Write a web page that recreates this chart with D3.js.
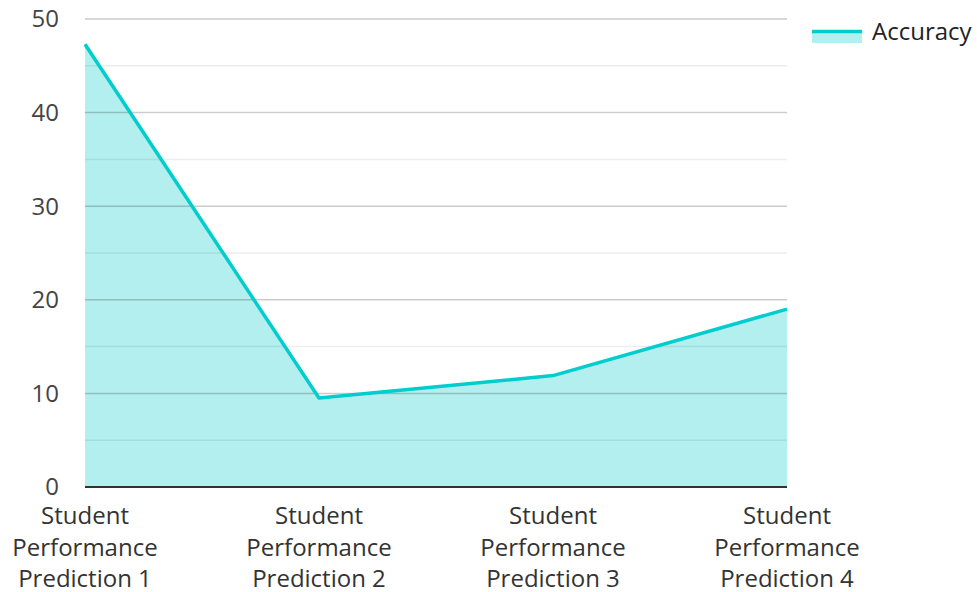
<!DOCTYPE html>
<html>
<head>
<meta charset="utf-8">
<script src="https://cdn.jsdelivr.net/npm/d3@7"></script>
<style>
  body { margin: 0; background: #fff; }
  text { font-family: "Open Sans", sans-serif; }
</style>
</head>
<body>
<div id="chart"></div>
<script>
// data
const categories = [
  "Student Performance Prediction 1",
  "Student Performance Prediction 2",
  "Student Performance Prediction 3",
  "Student Performance Prediction 4"
];
const accuracy = [47.3, 9.5, 11.9, 19.0];
const yTicks = [0, 10, 20, 30, 40, 50];
const yMinorTicks = [5, 15, 25, 35, 45];
const seriesName = "Accuracy";

const width = 977, height = 592;
const margin = { top: 19, right: 190, bottom: 105, left: 85 };
const plotW = width - margin.left - margin.right;
const plotH = height - margin.top - margin.bottom;

const svg = d3.select("#chart").append("svg")
  .attr("width", width).attr("height", height);

const g = svg.append("g")
  .attr("transform", `translate(${margin.left},${margin.top})`);

const x = d3.scalePoint().domain(categories).range([0, plotW]);
const y = d3.scaleLinear().domain([0, 50]).range([plotH, 0]);

const rows = categories.map((c, i) => ({ cat: c, v: accuracy[i] }));

// area fill
g.append("path")
  .datum(rows)
  .attr("fill", "#b2efee")
  .attr("d", d3.area().x(d => x(d.cat)).y0(y(0)).y1(d => y(d.v)));

// grid drawn over the area
g.selectAll(".minor").data(yMinorTicks).enter().append("line")
  .attr("x1", 0).attr("x2", plotW)
  .attr("y1", d => y(d)).attr("y2", d => y(d))
  .attr("stroke", "rgba(0,0,0,0.07)").attr("stroke-width", 1.5);

g.selectAll(".major").data(yTicks.filter(t => t > 0)).enter().append("line")
  .attr("x1", 0).attr("x2", plotW)
  .attr("y1", d => y(d)).attr("y2", d => y(d))
  .attr("stroke", "rgba(0,0,0,0.2)").attr("stroke-width", 1.5);

// line
g.append("path")
  .datum(rows)
  .attr("fill", "none")
  .attr("stroke", "#00cdcd")
  .attr("stroke-width", 3.5)
  .attr("stroke-linejoin", "round")
  .attr("d", d3.line().x(d => x(d.cat)).y(d => y(d.v)));

// baseline
g.append("line")
  .attr("x1", 0).attr("x2", plotW)
  .attr("y1", y(0)).attr("y2", y(0))
  .attr("stroke", "#333").attr("stroke-width", 2);

// y labels
g.selectAll(".ylab").data(yTicks).enter().append("text")
  .attr("x", -26).attr("y", d => y(d))
  .attr("dy", "0.35em")
  .attr("text-anchor", "end")
  .attr("font-size", 24).attr("fill", "#444")
  .text(d => d);

// x labels, wrapped in three lines
const xl = g.selectAll(".xlab").data(categories).enter().append("text")
  .attr("text-anchor", "middle")
  .attr("font-size", 24).attr("fill", "#333")
  .attr("transform", d => `translate(${x(d)},${plotH + 37})`);
xl.each(function (d) {
  const words = d.split(" ");
  const lines = [words[0], words[1], words.slice(2).join(" ")];
  d3.select(this).selectAll("tspan").data(lines).enter().append("tspan")
    .attr("x", 0).attr("dy", (l, i) => i === 0 ? 0 : 31.5)
    .text(l => l);
});

// legend
const lg = svg.append("g").attr("transform", "translate(812,30)");
lg.append("rect").attr("x", 0).attr("y", 0).attr("width", 50).attr("height", 13)
  .attr("fill", "#b2efee");
lg.append("line").attr("x1", 0).attr("x2", 50).attr("y1", 1.5).attr("y2", 1.5)
  .attr("stroke", "#00cdcd").attr("stroke-width", 3.5);
lg.append("text").attr("x", 60).attr("y", 2).attr("dy", "0.35em")
  .attr("font-size", 24).attr("fill", "#222")
  .text(seriesName);
</script>
</body>
</html>
